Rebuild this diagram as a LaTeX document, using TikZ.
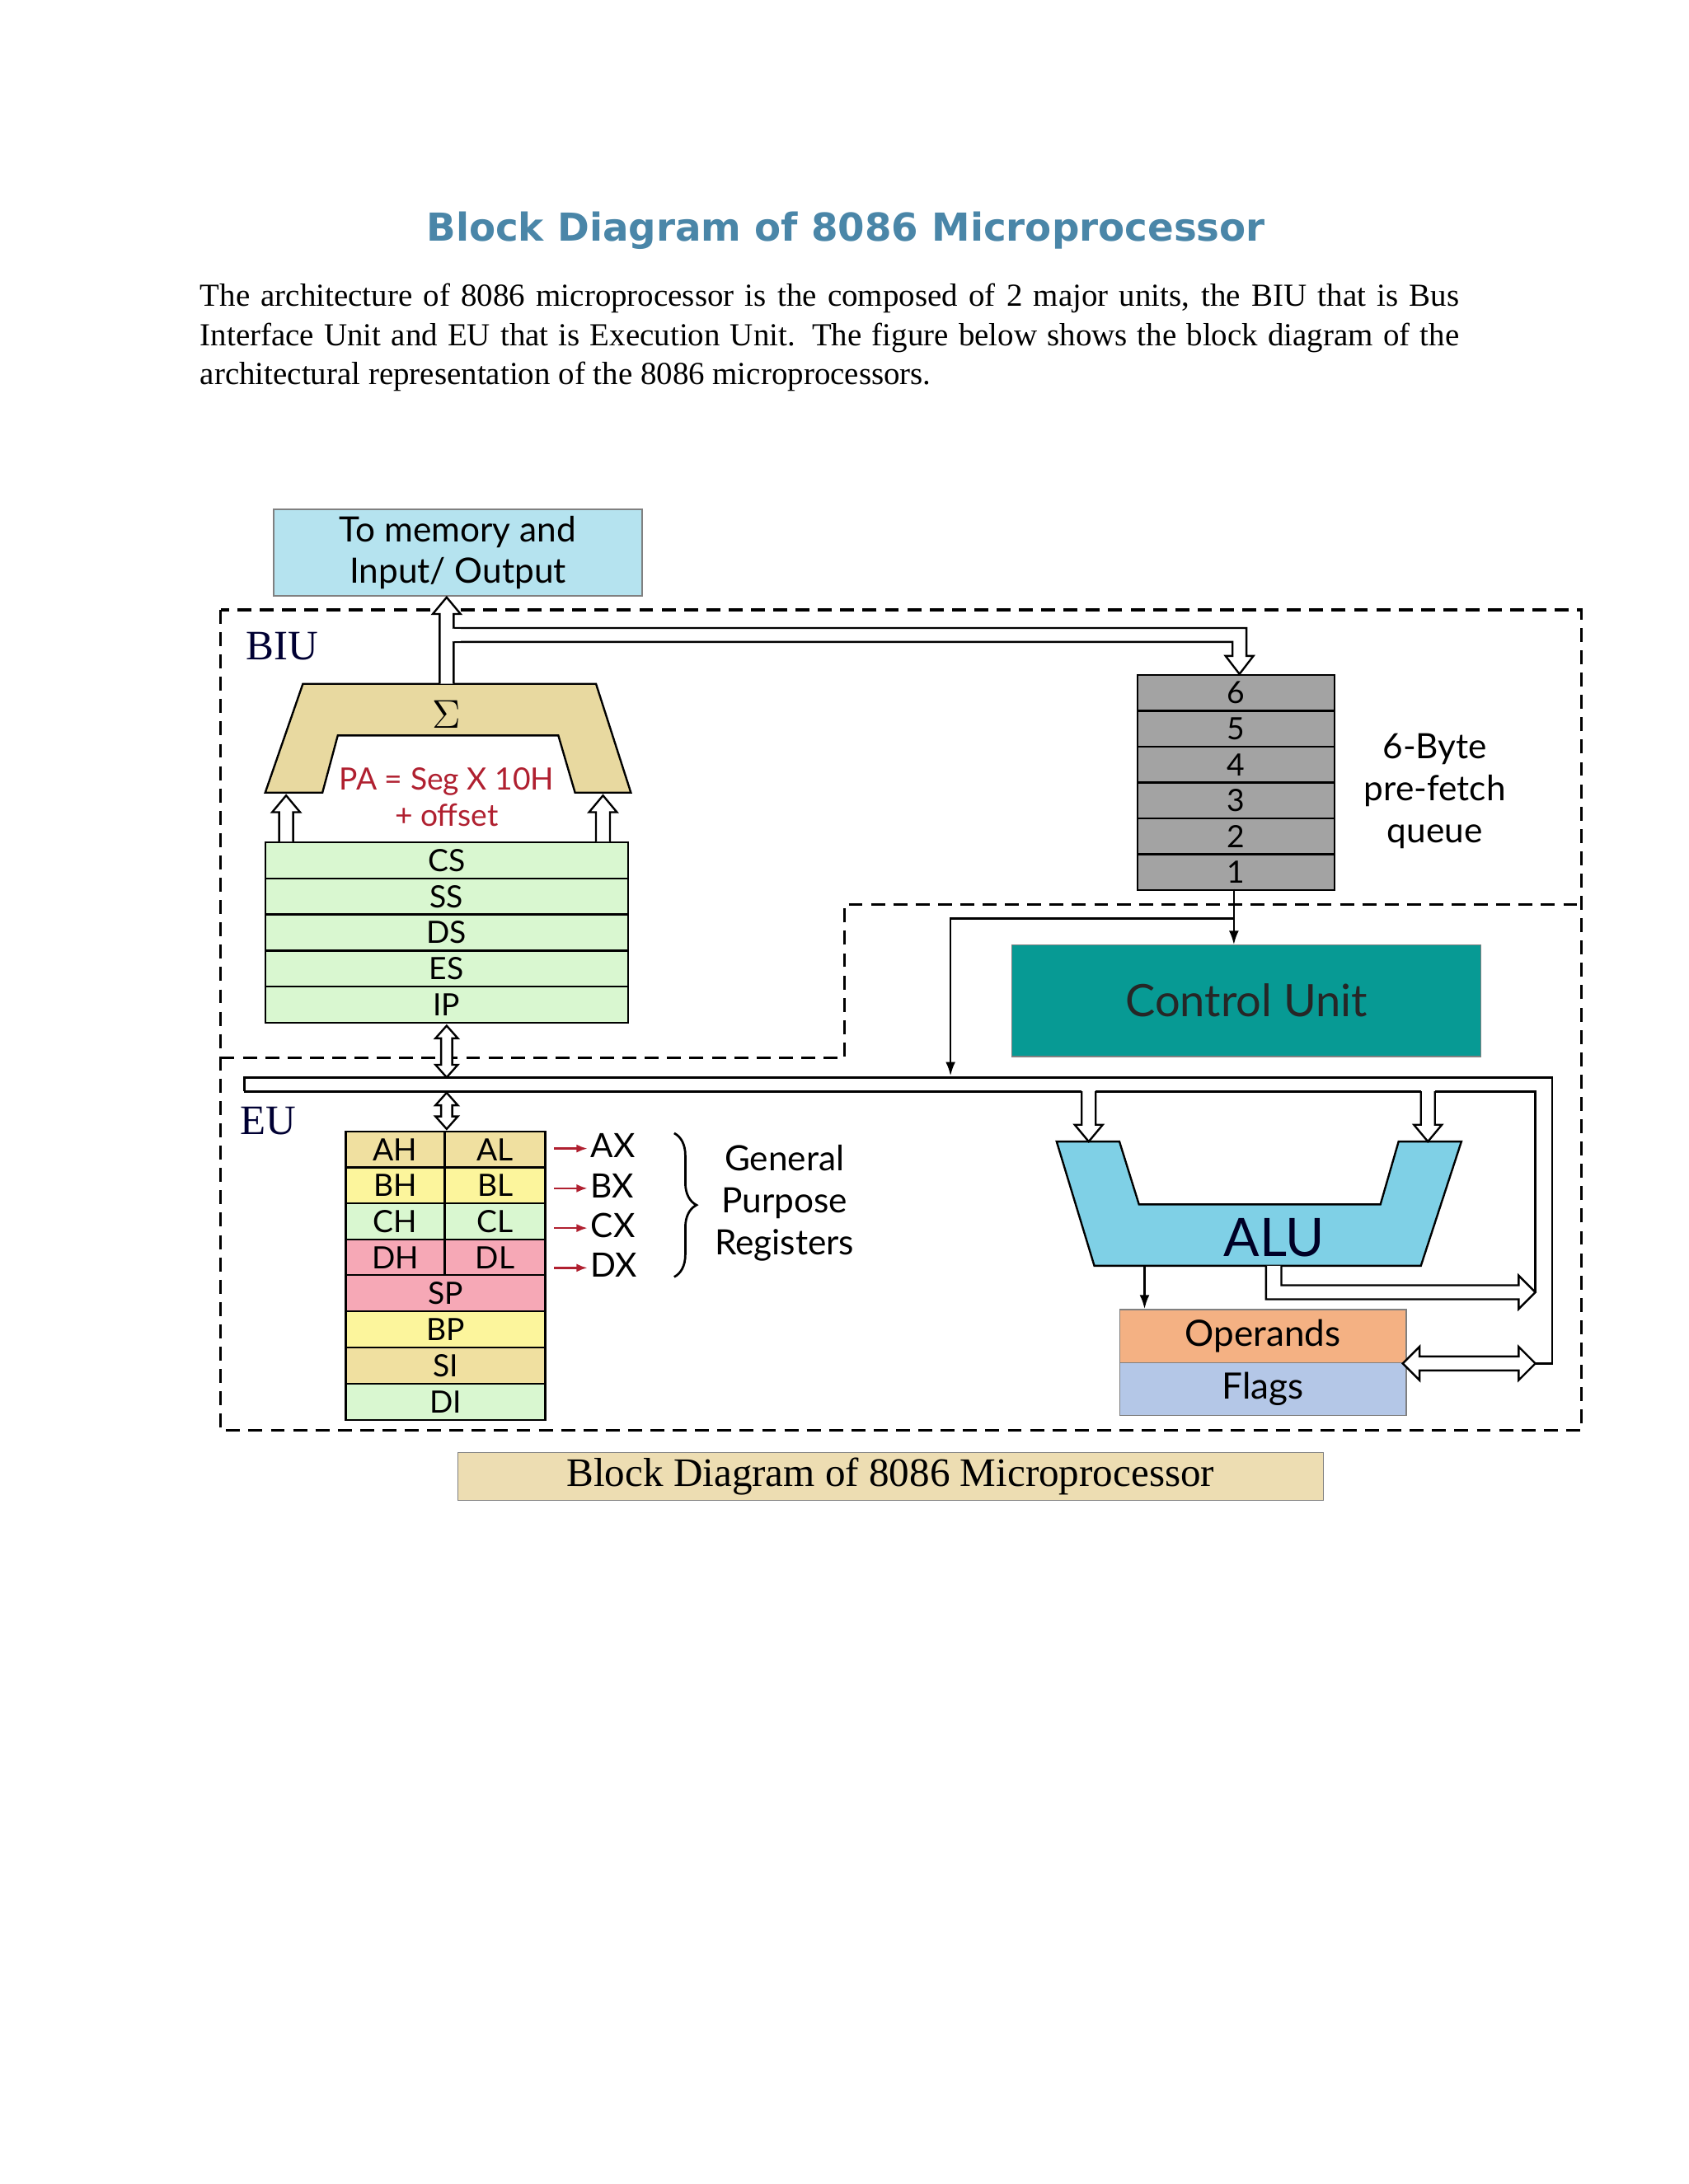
\documentclass[tikz,border=0pt]{standalone}
\usepackage{fontspec}
\setmainfont{Liberation Serif}
\newfontfamily\gill{Lato}
\newfontfamily\ttl{DejaVu Sans}
\usetikzlibrary{decorations.pathreplacing,arrows.meta}
\definecolor{ttlc}{HTML}{4A86A8}
\definecolor{memc}{HTML}{B5E3EF}
\definecolor{sigc}{HTML}{E8D9A0}
\definecolor{segc}{HTML}{D9F7D0}
\definecolor{quec}{HTML}{A3A3A3}
\definecolor{cuc}{HTML}{079A94}
\definecolor{aluc}{HTML}{7FD0E6}
\definecolor{opc}{HTML}{F4B183}
\definecolor{flc}{HTML}{B4C7E7}
\definecolor{tanc}{HTML}{F0E0A0}
\definecolor{yelc}{HTML}{FCF59C}
\definecolor{pinkc}{HTML}{F6A8B6}
\definecolor{capc}{HTML}{EDDDB2}
\definecolor{redc}{HTML}{B02030}
\newcommand\hup[3]{% x, ybottom, ytop
  \draw[fill=white,line width=0.7pt] ({#1-5},#2)--({#1-5},{#3+12})--({#1-10},{#3+12})--(#1,#3)--({#1+10},{#3+12})--({#1+5},{#3+12})--({#1+5},#2);}
\newcommand\hboth[3]{% x, ytop, ybottom
  \draw[fill=white,line width=0.7pt] (#1,#2)--({#1+8},{#2+9})--({#1+4},{#2+9})--({#1+4},{#3-9})--({#1+8},{#3-9})--(#1,#3)--({#1-8},{#3-9})--({#1-4},{#3-9})--({#1-4},{#2+9})--({#1-8},{#2+9})--cycle;}
\begin{document}
\begin{tikzpicture}[x=0.5pt,y=-0.5pt,
  reg/.style={draw,line width=0.7pt,minimum height=13pt,inner sep=0pt,font=\gill\fontsize{11}{11}\selectfont},
  lbl/.style={font=\gill\fontsize{12.5}{15}\selectfont,align=center},
  thin/.style={line width=0.8pt,-{Latex[length=5pt,width=3.5pt]}},
  bus/.style={line width=0.8pt}]
\useasboundingbox[fill=white] (0,0) rectangle (1210,1565);
% title and text
\node[font=\ttl\bfseries\fontsize{13.8}{17}\selectfont,text=ttlc] (title) at (606,165) {Block Diagram of 8086 Microprocessor};
\node[anchor=north west,inner sep=0pt,text width=451pt,align=justify,font=\fontsize{11.5}{14}\selectfont] (para) at (143,203)
 {The architecture of 8086 microprocessor is the composed of 2 major units, the BIU that is Bus Interface Unit and EU that is Execution Unit. The figure below shows the block diagram of the architectural representation of the 8086 microprocessors.};
% memory box
\node[draw=gray,fill=memc,minimum width=132pt,minimum height=31pt,lbl,inner sep=0pt,line width=0.6pt] (mem) at (328,396) {To memory and\\Input/ Output};
% dashed regions
\draw[line width=0.9pt,dash pattern=on 5pt off 3pt] (158,437) rectangle (1133,1025);
\draw[line width=0.9pt,dash pattern=on 5pt off 3pt] (158,758)--(605,758)--(605,648)--(1133,648);
\node[font=\fontsize{15}{15}\selectfont,text=black!80!blue] (biu) at (202,463) {BIU};
\node[font=\fontsize{15}{15}\selectfont,text=black!80!blue] (eu) at (192,803) {EU};
% sigma
\draw[fill=sigc,line width=0.7pt] (217,490)--(427,490)--(452,568)--(412,568)--(400,527)--(242,527)--(231,568)--(190,568)--cycle;
\node[font=\gill\fontsize{14}{14}\selectfont] (sig) at (320,512) {$\Sigma$};
\node[font=\gill\fontsize{11}{13}\selectfont,text=redc,align=center] (pa) at (320,571) {PA = Seg X 10H\\+ offset};
% segment regs
\foreach \t [count=\i] in {CS,SS,DS,ES,IP}{
  \node[reg,fill=segc,minimum width=130pt,anchor=north] (s\i) at (320,{603+(\i-1)*25.8}) {\t};}
% arrows BIU
\hup{205}{603}{570}
\hup{432}{603}{570}
\hup{320}{490}{428}
\fill[white] (325,450) rectangle (893,460);
\draw[line width=0.7pt] (325,450)--(893,450)--(893,470)--(898,470)--(888,483)--(878,470)--(883,470)--(883,460)--(325,460);
\fill[white] (318,450.4) rectangle (330,459.6);
% queue
\foreach \t [count=\i] in {6,5,4,3,2,1}{
  \node[reg,fill=quec,minimum width=70.5pt,minimum height=12.8pt,anchor=north,font=\gill\fontsize{11}{11}\selectfont] (q\i) at (885.5,{483+(\i-1)*25.7}) {\t};}
\node[lbl] (qtxt) at (1028,567) {6-Byte\\pre-fetch\\queue};
% control unit
\node[draw=gray,fill=cuc,minimum width=168pt,minimum height=40pt,inner sep=0pt,font=\gill\fontsize{16}{16}\selectfont,text=black!85] (cu) at (893,717) {Control Unit};
\draw[thin] (884,637) -- (884,677);
\draw[thin] (884,658)--(681,658)--(681,771);
% bus
\draw[bus] (175,782)--(175,772)--(1112,772)--(1112,977)--(1100,977);
\draw[bus] (175,782)--(775,782) (785,782)--(1018,782) (1028,782)--(1100,782)--(1100,926);
\hboth{320}{735}{772}
\hboth{320}{783}{809}
% ALU
\draw[fill=aluc,line width=0.7pt] (757,818)--(802,818)--(816,863)--(989,863)--(1002,818)--(1047,818)--(1018,907)--(784,907)--cycle;
\node[font=\gill\fontsize{19}{19}\selectfont,text=black!85!blue] (alu) at (913,887) {ALU};
\draw[line width=0.7pt,fill=white] (775,782)--(775,806)--(770,806)--(780,818)--(790,806)--(785,806)--(785,782);
\draw[line width=0.7pt,fill=white] (1018,782)--(1018,806)--(1013,806)--(1023,818)--(1033,806)--(1028,806)--(1028,782);
% operands flags
\node[draw=gray,fill=opc,minimum width=102.5pt,minimum height=19pt,inner sep=0pt,font=\gill\fontsize{13}{13}\selectfont,anchor=north west] (op) at (802,938) {Operands};
\node[draw=gray,fill=flc,minimum width=102.5pt,minimum height=19pt,inner sep=0pt,font=\gill\fontsize{13}{13}\selectfont,anchor=north west] (fl) at (802,976) {Flags};
\draw[thin] (820,907)--(820,938);
\draw[line width=0.7pt,fill=white] (907,907)--(907,931)--(1088,931)--(1088,938)--(1100,926)--(1088,914)--(1088,921)--(918,921)--(918,907);
\draw[line width=0.7pt,fill=white] (1005,977)--(1017,965)--(1017,972)--(1088,972)--(1088,965)--(1100,977)--(1088,989)--(1088,982)--(1017,982)--(1017,989)--cycle;
% GP registers
\foreach \a/\b/\c [count=\i] in {AH/AL/tanc,BH/BL/yelc,CH/CL/segc,DH/DL/pinkc}{
  \node[reg,fill=\c,minimum width=35.5pt,anchor=north west] (h\i) at (247,{810+(\i-1)*25.8}) {\a};
  \node[reg,fill=\c,minimum width=36pt,anchor=north west] (l\i) at (318,{810+(\i-1)*25.8}) {\b};}
\foreach \t/\c [count=\i] in {SP/pinkc,BP/yelc,SI/tanc,DI/segc}{
  \node[reg,fill=\c,minimum width=71.5pt,anchor=north west] (r\i) at (247,{913+(\i-1)*26}) {\t};}
\foreach \t [count=\i] in {AX,BX,CX,DX}{
  \draw[redc,line width=0.8pt,-{Latex[length=4pt,width=3pt]}] ({397},{823+(\i-1)*28.5}) -- (421,{823+(\i-1)*28.5});
  \node[font=\gill\fontsize{12}{12}\selectfont,anchor=west,inner sep=0pt] (x\i) at (423,{821+(\i-1)*28.5}) {\t};}
\draw[decorate,decoration={brace,amplitude=8pt},line width=0.8pt] (483,812)--(483,915);
\node[lbl] (gp) at (562,862) {General\\Purpose\\Registers};
% caption
\node[draw=gray,fill=capc,minimum width=310pt,minimum height=17pt,inner sep=0pt,font=\fontsize{14.5}{14.5}\selectfont] (cap) at (638,1058) {Block Diagram of 8086 Microprocessor};
\end{tikzpicture}
\end{document}
